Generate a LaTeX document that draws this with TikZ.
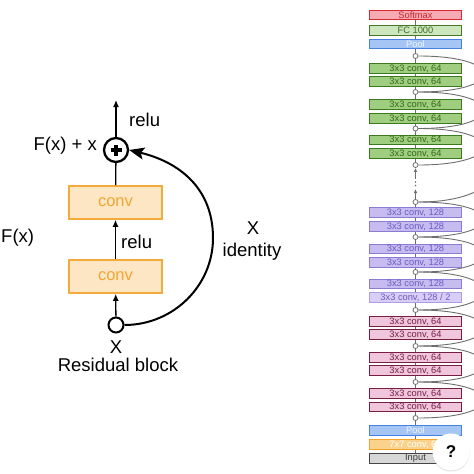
\documentclass[tikz,border=0pt]{standalone}
\usepackage{fontspec}
\setmainfont{Liberation Sans}
\usetikzlibrary{arrows.meta,backgrounds,shadows}
\definecolor{convfill}{RGB}{253,230,196}
\definecolor{convdraw}{RGB}{245,170,60}
\definecolor{convtext}{RGB}{242,165,50}
\definecolor{smfill}{RGB}{245,170,180}
\definecolor{smdraw}{RGB}{215,40,50}
\definecolor{smtext}{RGB}{200,35,45}
\definecolor{fcfill}{RGB}{205,230,190}
\definecolor{fcdraw}{RGB}{70,120,40}
\definecolor{fctext}{RGB}{60,110,35}
\definecolor{plfill}{RGB}{165,198,245}
\definecolor{pldraw}{RGB}{70,130,230}
\definecolor{pltext}{RGB}{240,245,255}
\definecolor{gfill}{RGB}{160,206,128}
\definecolor{gdraw}{RGB}{60,120,30}
\definecolor{gtext}{RGB}{50,105,25}
\definecolor{pfill}{RGB}{198,188,240}
\definecolor{pdraw}{RGB}{140,122,212}
\definecolor{ptext}{RGB}{110,90,195}
\definecolor{p2fill}{RGB}{216,206,246}
\definecolor{p2draw}{RGB}{172,158,226}
\definecolor{mfill}{RGB}{240,198,220}
\definecolor{mdraw}{RGB}{118,30,70}
\definecolor{mtext}{RGB}{118,30,70}
\definecolor{ofill}{RGB}{250,210,140}
\definecolor{odraw}{RGB}{245,165,40}
\definecolor{ifill}{RGB}{215,215,215}
\definecolor{idraw}{RGB}{70,70,70}
\definecolor{itext}{RGB}{60,60,60}
\definecolor{linegray}{RGB}{110,110,110}
\begin{document}
\begin{tikzpicture}[x=1pt,y=-1pt,
  lbl/.style={inner sep=0pt,font=\fontsize{18.5}{20}\selectfont},
  convbox/.style={draw=convdraw,fill=convfill,line width=1.6pt,minimum width=93pt,minimum height=33pt,inner sep=0pt,text=convtext,font=\fontsize{16.5}{18}\selectfont},
  arr/.style={line width=1.3pt,-{Latex[length=7pt,width=6pt]}},
  plain/.style={line width=1.3pt},
  bigarr/.style={line width=2pt,-{Stealth[length=15pt,width=12pt,inset=3pt]}},
  rbox/.style={draw,line width=1.4pt,minimum width=92pt,minimum height=9.5pt,inner sep=0pt,font=\fontsize{9.3}{9.5}\selectfont},
  smbox/.style={rbox,draw=smdraw,fill=smfill,text=smtext},
  fcbox/.style={rbox,draw=fcdraw,fill=fcfill,text=fctext},
  plbox/.style={rbox,draw=pldraw,fill=plfill,text=pltext},
  gbox/.style={rbox,draw=gdraw,fill=gfill,text=gtext},
  pbox/.style={rbox,draw=pdraw,fill=pfill,text=ptext},
  ptbox/.style={rbox,draw=p2draw,fill=p2fill,text=ptext},
  mbox/.style={rbox,draw=mdraw,fill=mfill,text=mtext},
  obox/.style={rbox,draw=odraw,fill=ofill,text=white},
  ibox/.style={rbox,draw=idraw,fill=ifill,text=itext},
  jn/.style={circle,draw=linegray,fill=white,line width=0.8pt,minimum size=5pt,inner sep=0pt},
  bb/.style={draw=linegray,line width=0.9pt},
  bbarr/.style={draw=linegray,line width=0.9pt,-{Latex[length=4pt,width=3.5pt]}},
  skip/.style={draw=linegray,line width=0.9pt},
  dotn/.style={circle,fill=linegray,minimum size=1.6pt,inner sep=0pt}
]
\useasboundingbox (0,0) rectangle (474,474);
\clip (0,0) rectangle (474,474);

% ---------- left: residual block ----------
\node[convbox] (c2) at (115.5,202.5) {conv};
\node[convbox] (c1) at (115.5,276.5) {conv};
\node[circle,draw,line width=2.3pt,minimum size=24pt,inner sep=0pt,fill=white] (plus) at (116,150) {};
\draw[line width=3.2pt] ([xshift=-5.5pt]plus.center) -- ([xshift=5.5pt]plus.center);
\draw[line width=3.2pt] ([yshift=-5.5pt]plus.center) -- ([yshift=5.5pt]plus.center);
\node[circle,draw,line width=2pt,fill=white,minimum size=15pt,inner sep=0pt] (xin) at (116,325) {};
\coordinate (top) at (116,100);
\draw[arr] (plus) -- (top);
\draw[plain] (c2) -- (plus);
\draw[arr] (c1) -- (c2);
\draw[arr] (xin) -- (c1);
\draw[bigarr] (xin.east) .. controls (173,325) and (213,286) .. (213,238)
  .. controls (213,188) and (179,162) .. (plus.east);

\node[lbl,anchor=west] (relu1) at (129,120) {relu};
\node[lbl,anchor=east] (fxx) at (97,146) {F(x) + x};
\node[lbl,anchor=west] (fx) at (1,238) {F(x)};
\node[lbl,anchor=west] (relu2) at (121,242) {relu};
\node[lbl] (xid) at (253,228) {X};
\node[lbl] (idt) at (252,252) {identity};
\node[lbl] (xb) at (116,347) {X};
\node[lbl] (rb) at (118,365) {Residual block};

% ---------- right: network column ----------
\node[smbox] (smax) at (415.5,15) {Softmax};
\node[fcbox] (fc) at (415.5,30.5) {FC 1000};
\node[plbox] (pool1) at (415.5,44) {Pool};
\node[jn] (j56) at (415.5,56) {};
\node[gbox] (g1) at (415.5,68.5) {3x3 conv, 64};
\node[gbox] (g2) at (415.5,81.5) {3x3 conv, 64};
\node[jn] (j92) at (415.5,92) {};
\node[gbox] (g3) at (415.5,104.5) {3x3 conv, 64};
\node[gbox] (g4) at (415.5,118.5) {3x3 conv, 64};
\node[jn] (j128) at (415.5,128.5) {};
\node[gbox] (g5) at (415.5,140) {3x3 conv, 64};
\node[gbox] (g6) at (415.5,153.5) {3x3 conv, 64};
\node[jn] (j165) at (415.5,165) {};
\coordinate (d2) at (415.5,178.5);
\node[dotn] (dt1) at (415.5,182) {};
\node[dotn] (dt2) at (415.5,185.5) {};
\coordinate (a1) at (415.5,189);
\node[jn] (j202) at (415.5,202) {};
\node[pbox] (p1) at (415.5,212.5) {3x3 conv, 128};
\node[pbox] (p2) at (415.5,226.5) {3x3 conv, 128};
\node[jn] (j237) at (415.5,237) {};
\node[pbox] (p3) at (415.5,249) {3x3 conv, 128};
\node[pbox] (p4) at (415.5,262.5) {3x3 conv, 128};
\node[jn] (j272) at (415.5,272) {};
\node[pbox] (p5) at (415.5,284) {3x3 conv, 128};
\node[ptbox] (p6) at (415.5,297.5) {3x3 conv, 128 / 2};
\node[jn] (j310) at (415.5,310) {};
\node[mbox] (m1) at (415.5,321.5) {3x3 conv, 64};
\node[mbox] (m2) at (415.5,334.5) {3x3 conv, 64};
\node[jn] (j346) at (415.5,346) {};
\node[mbox] (m3) at (415.5,357.5) {3x3 conv, 64};
\node[mbox] (m4) at (415.5,370.5) {3x3 conv, 64};
\node[jn] (j382) at (415.5,382) {};
\node[mbox] (m5) at (415.5,393.5) {3x3 conv, 64};
\node[mbox] (m6) at (415.5,407) {3x3 conv, 64};
\node[jn] (j418) at (415.5,418) {};
\node[plbox] (pool2) at (415.5,430.5) {Pool};
\node[obox] (c7) at (415.5,444.5) {7x7 conv, 64};
\node[ibox] (inp) at (415.5,458.5) {Input};
\coordinate (off202) at (505,172);

\begin{scope}[on background layer]
  \draw[bb] (inp) -- (j202);
  \draw[bb] (j165) -- (smax);
\end{scope}
\draw[bbarr] (j202) -- (a1);
\draw[bbarr] (d2) -- (j165);

\draw[skip] (j418) .. controls +(90,0) and +(90,0) .. (j382);
\draw[skip] (j382) .. controls +(90,0) and +(90,0) .. (j346);
\draw[skip] (j346) .. controls +(90,0) and +(90,0) .. (j310);
\draw[skip] (j310) .. controls +(90,0) and +(90,0) .. (j272);
\draw[skip] (j272) .. controls +(90,0) and +(90,0) .. (j237);
\draw[skip] (j237) .. controls +(90,0) and +(90,0) .. (j202);
\draw[skip] (j202) .. controls +(60,0) and +(-15,10) .. (off202);
\draw[skip] (j165) .. controls +(90,0) and +(90,0) .. (j128);
\draw[skip] (j128) .. controls +(90,0) and +(90,0) .. (j92);
\draw[skip] (j92) .. controls +(90,0) and +(90,0) .. (j56);

% help overlay
\node[circle,fill=white,minimum size=37pt,inner sep=0pt,
  drop shadow={opacity=0.25,shadow xshift=0pt,shadow yshift=-1pt},
  font=\bfseries\fontsize{17}{18}\selectfont] (help) at (451,452) {?};
\end{tikzpicture}
\end{document}
